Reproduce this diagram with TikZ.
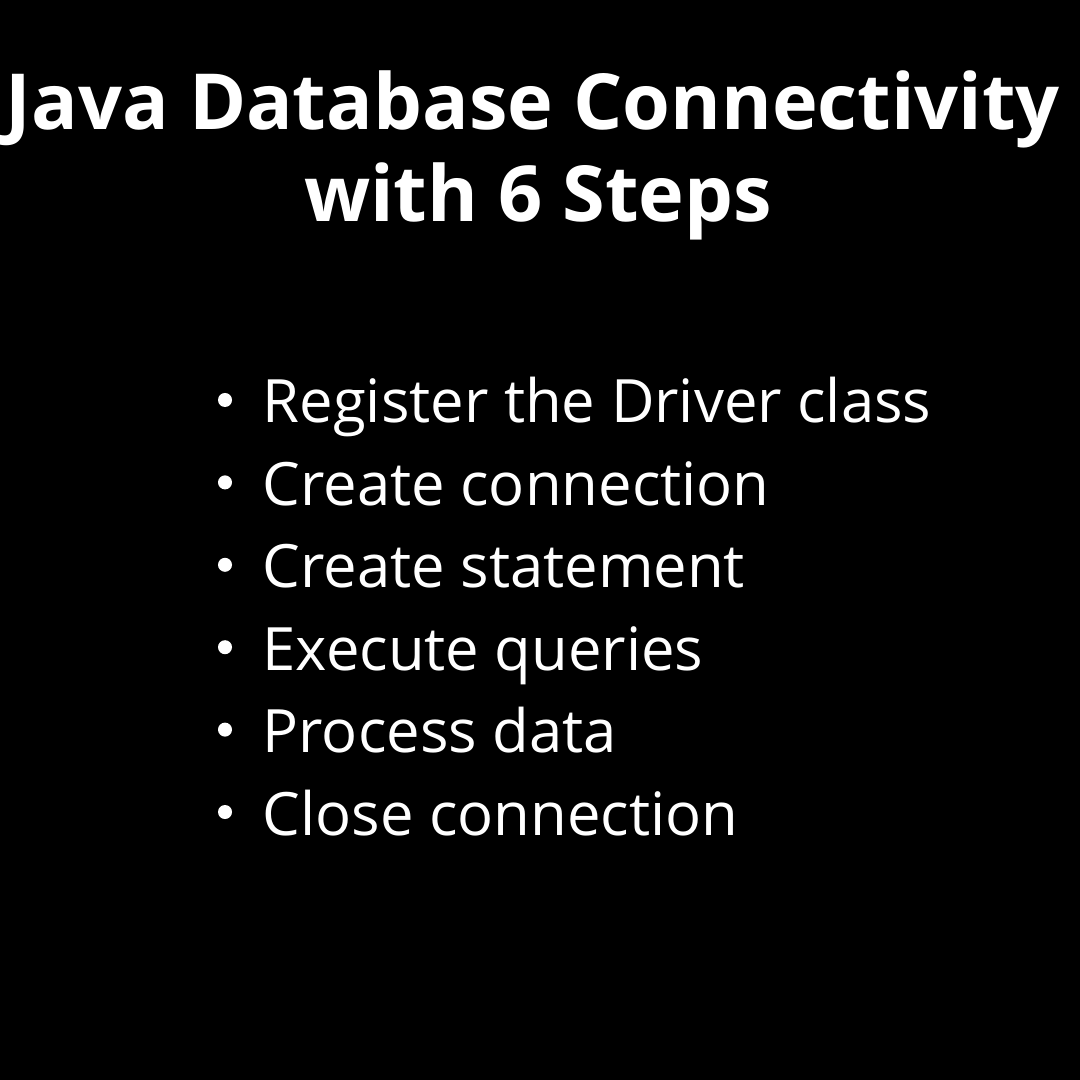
\documentclass[tikz,border=0pt]{standalone}
\usepackage{fontspec}
\setmainfont{Open Sans}
\begin{document}
\begin{tikzpicture}[x=0.01cm,y=-0.01cm,
  title/.style={text=white,font=\bfseries\fontsize{22}{26}\selectfont,anchor=base,inner sep=0},
  item/.style={text=white,font=\fontsize{17}{20}\selectfont,anchor=base west,inner sep=0},
  dot/.style={circle,fill=white,minimum size=0.14cm,inner sep=0}]
\fill[black] (0,0) rectangle (1080,1080);
\useasboundingbox (0,0) rectangle (1080,1080);
\node[title] (t1) at (533,130) {Java Database Connectivity};
\node[title] (t2) at (538,222) {with 6 Steps};
\foreach \t [count=\i] in {Register the Driver class,Create connection,Create statement,Execute queries,Process data,Close connection}{
  \pgfmathsetmacro\yy{423+82.4*(\i-1)}
  \node[item] (i\i) at (262,\yy) {\t};
  \node[dot] (d\i) at (225,\yy-23) {};
}
\end{tikzpicture}
\end{document}
